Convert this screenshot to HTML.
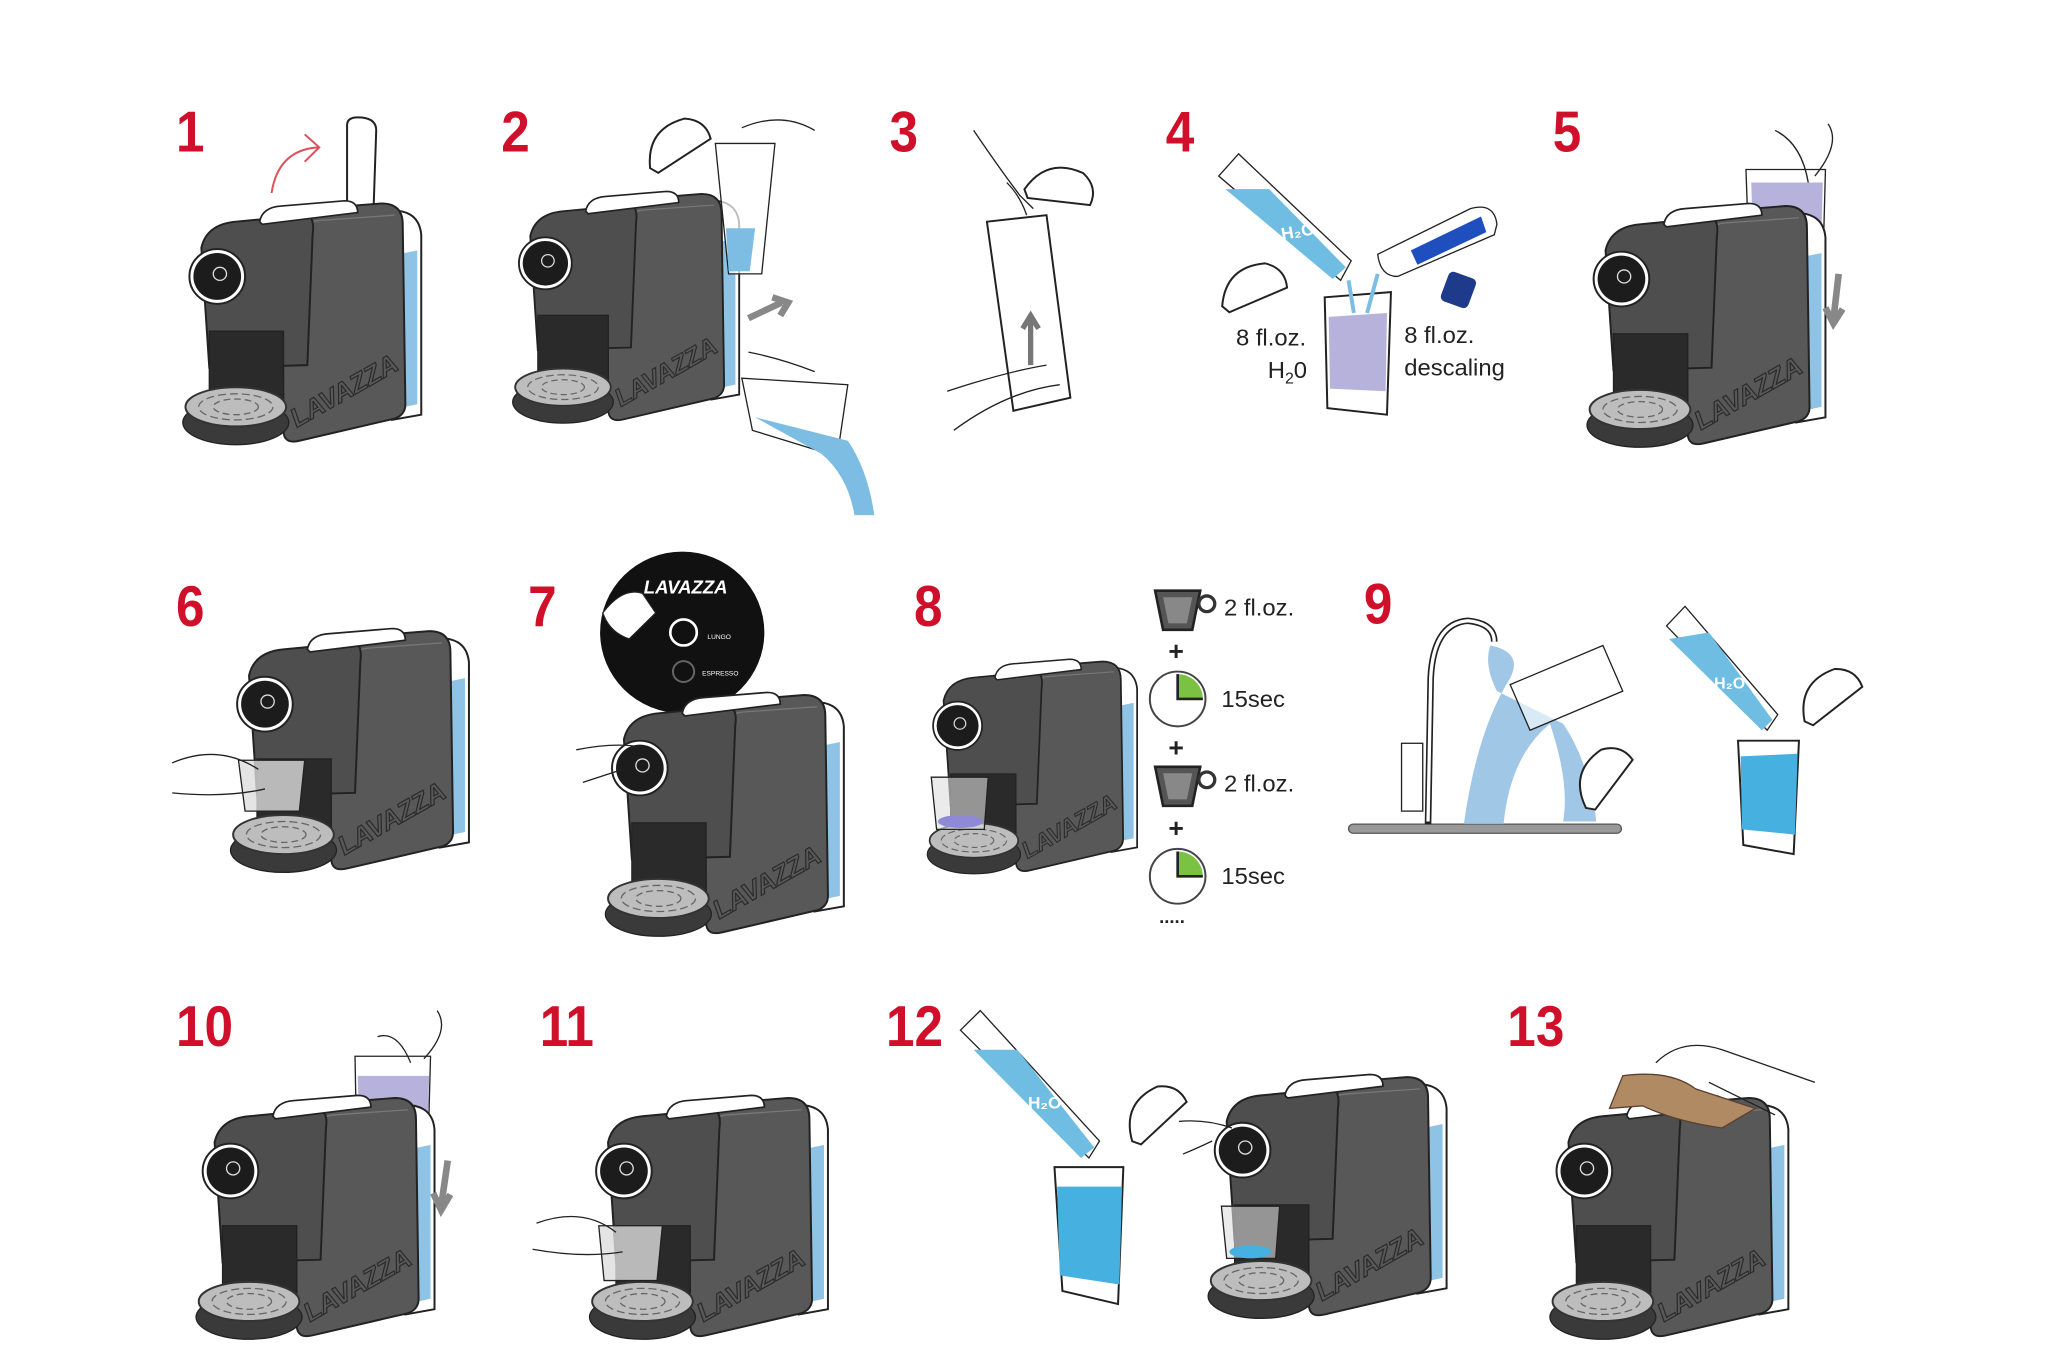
<!DOCTYPE html>
<html><head><meta charset="utf-8"><style>
html,body{margin:0;padding:0;background:#fff;width:2048px;height:1364px;overflow:hidden}
svg{display:block}
text{font-family:"Liberation Sans",sans-serif}
</style></head><body>
<svg width="2048" height="1364" viewBox="0 0 1546 1046" preserveAspectRatio="none" xmlns="http://www.w3.org/2000/svg">
<defs>
<g id="m">
 <path d="M150,12 Q178,8 180,30 L180,168 L158,172 Z" fill="#fff" stroke="#222" stroke-width="1.5"/>
 <path d="M163,45 L177,42 L177,160 L163,163 Z" fill="#8fc3e6"/>
 <path d="M75,24 Q80,12 100,10 L150,6 Q166,6 166,22 L168,160 Q168,168 160,171 L88,188 Q76,191 76,180 Z" fill="#585858" stroke="#222" stroke-width="1.5"/>
 <path d="M90,30 Q92,20 104,19 L160,15" fill="none" stroke="#777" stroke-width="1"/>
 <path d="M14,40 Q18,22 40,20 L92,15 Q100,15 98,30 L94,130 L20,132 Z" fill="#4e4e4e" stroke="#222" stroke-width="1.5"/>
 <path d="M58,20 Q60,9 74,8 L122,4 Q132,4 132,13 L60,22 Z" fill="#fff" stroke="#222" stroke-width="1.3"/>
 <circle cx="26" cy="62" r="21" fill="#fff" stroke="#222" stroke-width="1.5"/>
 <circle cx="26" cy="62" r="18" fill="#1c1c1c"/>
 <circle cx="28" cy="60" r="5" fill="none" stroke="#ddd" stroke-width="1"/>
 <rect x="20" y="104" width="56" height="56" fill="#2a2a2a" stroke="#222"/>
 <ellipse cx="40" cy="174" rx="40" ry="17" fill="#3a3a3a" stroke="#222"/>
 <ellipse cx="40" cy="162" rx="38" ry="15" fill="#bdbdbd" stroke="#333" stroke-width="1.5"/>
 <ellipse cx="40" cy="162" rx="28" ry="10" fill="none" stroke="#666" stroke-dasharray="6 3"/>
 <ellipse cx="40" cy="162" rx="17" ry="6" fill="none" stroke="#666" stroke-dasharray="5 3"/>
 <text x="86" y="178" transform="rotate(-30 86 178)" font-size="20" font-weight="bold" font-style="italic" fill="none" stroke="#2a2a2a" stroke-width="0.9">LAVAZZA</text>
</g>
<g id="clock">
 <circle cx="0" cy="0" r="21" fill="#fff" stroke="#444" stroke-width="1.5"/>
 <path d="M0,0 L0,-19 A19,19 0 0 1 19,0 Z" fill="#7cc242"/>
 <path d="M0,-19 L0,0 L19,0" stroke="#222" stroke-width="2" fill="none"/>
</g>
<g id="cup">
 <path d="M0,0 L34,0 L28,30 L6,30 Z" fill="#555" stroke="#222" stroke-width="2"/>
 <path d="M6,5 L28,5 L24,25 L10,25 Z" fill="#888"/>
 <circle cx="39" cy="10" r="6" fill="none" stroke="#333" stroke-width="2.5"/>
</g>
<g id="lid">
 <path d="M0,30 Q5,0 35,0 Q50,5 50,20 L5,35 Z" fill="#fff" stroke="#222" stroke-width="1.5"/>
</g>
</defs>

<g font-weight="bold" fill="#d0102a" font-size="44" transform="scale(0.88,1)">
<text x="151" y="116">1</text><text x="430" y="116">2</text><text x="763" y="116">3</text>
<text x="1000" y="116">4</text><text x="1332" y="116">5</text>
<text x="151" y="480">6</text><text x="453" y="480">7</text><text x="784" y="480">8</text><text x="1170" y="478">9</text>
<text x="151" y="802">10</text><text x="463" y="802">11</text><text x="760" y="802">12</text><text x="1293" y="802">13</text>
</g>

<!-- step 1 -->
<path d="M262,96 Q262,90 270,90 Q284,90 284,100 L282,160 L262,162 Z" fill="#fff" stroke="#222" stroke-width="1.5"/>
<use href="#m" x="138" y="150"/>
<path d="M205,148 Q210,115 240,113 M230,103 L241,113 L230,124" fill="none" stroke="#e0505a" stroke-width="1.5"/>

<!-- step 2 -->
<use href="#m" transform="translate(387,143) scale(0.95)"/>
<use href="#lid" transform="translate(483,100) rotate(-15)"/>
<path d="M540,110 L585,110 L575,210 L550,210 Z" fill="#fff" fill-opacity=".7" stroke="#222"/>
<path d="M548,175 L570,175 L566,208 L550,208 Z" fill="#7dbde3"/>
<path d="M560,98 Q590,85 615,100" fill="none" stroke="#222"/>
<path d="M565,244 L590,232 M583,228 L595,232 L589,242" stroke="#888" stroke-width="5" fill="none"/>
<path d="M560,290 L640,295 L632,350 L568,330 Z" fill="#fff" fill-opacity=".7" stroke="#222"/>
<path d="M570,320 L640,338 Q655,360 660,395 L645,395 Q640,365 620,348 Z" fill="#7dbde3"/>
<path d="M565,270 Q590,275 615,285" fill="none" stroke="#222"/>

<!-- step 3 -->
<path d="M745,170 L790,165 L808,305 L765,315 Z" fill="#fff" stroke="#222" stroke-width="1.5"/>
<path d="M778,280 L778,245 M772,252 L778,242 L784,252" stroke="#777" stroke-width="4" fill="none"/>
<path d="M735,100 Q755,130 770,150 L780,160 M760,140 Q770,150 775,165" fill="none" stroke="#222"/>
<path d="M715,300 Q760,285 790,280 M720,330 Q760,300 800,295" fill="none" stroke="#222"/>
<use href="#lid" transform="translate(786,118) rotate(25)"/>

<!-- step 4 -->
<path d="M920,135 L935,118 L1020,200 L1012,215 Z" fill="#fff" stroke="#222"/>
<path d="M925,145 L958,145 L1016,205 L1006,214 Z" fill="#6fbde2"/>
<text x="968" y="184" font-size="13" fill="#fff" font-weight="bold" transform="rotate(-10 968 184)">H₂O</text>
<path d="M1040,195 L1110,160 Q1128,155 1130,172 L1128,180 L1055,212 Q1042,212 1040,195 Z" fill="#fff" stroke="#222"/>
<path d="M1065,192 L1118,166 L1122,178 L1070,203 Z" fill="#1f4fbf"/>
<rect x="1090" y="210" width="22" height="24" rx="4" fill="#1e3a8a" transform="rotate(20 1100 222)"/>
<use href="#lid" transform="translate(920,205) rotate(-5)"/>
<path d="M1000,228 L1050,224 L1047,318 L1002,313 Z" fill="#fff" stroke="#222" stroke-width="1.5"/>
<path d="M1003,243 L1047,240 L1046,300 L1004,298 Z" fill="#b7b2dc"/>
<path d="M1018,215 L1022,240 M1040,210 L1032,240" stroke="#7dbde3" stroke-width="3"/>
<text x="933" y="265" font-size="18" fill="#222">8 fl.oz.</text>
<text x="957" y="290" font-size="18" fill="#222">H<tspan font-size="12" dy="4">2</tspan><tspan dy="-4">0</tspan></text>
<text x="1060" y="263" font-size="18" fill="#222">8 fl.oz.</text>
<text x="1060" y="288" font-size="18" fill="#222">descaling</text>

<!-- step 5 -->
<path d="M1318,130 L1378,130 L1375,245 L1322,245 Z" fill="#fff" stroke="#222"/>
<path d="M1322,140 L1376,140 L1374,215 L1324,215 Z" fill="#b7b2dc"/>
<use href="#m" x="1198" y="152"/>
<path d="M1340,100 Q1360,110 1365,140 M1380,95 Q1390,110 1370,135" fill="none" stroke="#222"/>
<path d="M1388,210 L1384,245 M1378,236 L1384,248 L1391,237" stroke="#888" stroke-width="5" fill="none"/>

<!-- step 6 -->
<use href="#m" x="174" y="478"/>
<path d="M180,583 L230,583 L226,622 L185,622 Z" fill="#ddd" fill-opacity=".8" stroke="#222"/>
<path d="M130,585 Q165,570 195,590 M130,608 Q170,612 200,605" fill="none" stroke="#222"/>

<!-- step 7 -->
<circle cx="515" cy="485" r="62" fill="#111"/>
<text x="486" y="455" font-size="14" font-weight="bold" font-style="italic" fill="#fff">LAVAZZA</text>
<circle cx="516" cy="485" r="10" fill="none" stroke="#fff" stroke-width="2"/>
<circle cx="516" cy="515" r="8" fill="none" stroke="#666" stroke-width="1.5"/>
<text x="534" y="490" font-size="5" fill="#fff">LUNGO</text>
<text x="530" y="518" font-size="5" fill="#fff">ESPRESSO</text>
<path d="M455,470 Q470,450 485,455 L495,470 L475,490 Q460,485 455,470 Z" fill="#fff" stroke="#222"/>
<use href="#m" x="457" y="527"/>
<path d="M435,575 Q460,570 478,572 M440,600 Q455,595 470,590" fill="none" stroke="#222"/>

<!-- step 8 -->
<use href="#m" transform="translate(700,502) scale(0.88)"/>
<path d="M703,596 L746,596 L743,636 L707,636 Z" fill="#ddd" fill-opacity=".6" stroke="#222"/>
<ellipse cx="725" cy="630" rx="17" ry="5" fill="#8f8ad6"/>
<use href="#cup" x="872" y="453"/>
<text x="924" y="472" font-size="18" fill="#222">2 fl.oz.</text>
<text x="882" y="506" font-size="20" font-weight="bold" fill="#222">+</text>
<use href="#clock" x="889" y="536"/>
<text x="922" y="542" font-size="18" fill="#222">15sec</text>
<text x="882" y="580" font-size="20" font-weight="bold" fill="#222">+</text>
<use href="#cup" x="872" y="588"/>
<text x="924" y="607" font-size="18" fill="#222">2 fl.oz.</text>
<text x="882" y="642" font-size="20" font-weight="bold" fill="#222">+</text>
<use href="#clock" x="889" y="672"/>
<text x="922" y="678" font-size="18" fill="#222">15sec</text>
<text x="875" y="708" font-size="14" font-weight="bold" fill="#222">.....</text>

<!-- step 9 -->
<rect x="1018" y="632" width="206" height="7" rx="3.5" fill="#999" stroke="#555"/>
<path d="M1078,632 L1080,520 Q1082,478 1108,476 Q1128,478 1128,492" fill="none" stroke="#222" stroke-width="5"/>
<path d="M1078,630 L1080,520 Q1082,478 1108,476 Q1128,478 1128,492" fill="none" stroke="#fff" stroke-width="2.5"/>
<rect x="1058" y="570" width="16" height="52" fill="#fff" stroke="#222"/>
<path d="M1125,495 Q1150,500 1140,520 Q1115,560 1105,632 L1135,632 Q1140,580 1170,555 Q1185,600 1180,630 L1205,630 Q1200,585 1180,555 L1130,530 Q1120,510 1125,495 Z" fill="#8fbde0" opacity=".85"/>
<path d="M1140,525 L1210,495 L1225,530 L1155,560 Z" fill="#fff" fill-opacity=".6" stroke="#222"/>
<use href="#lid" transform="translate(1180,595) rotate(-35)"/>
<use href="#lid" transform="translate(1352,525) rotate(-20)"/>
<path d="M1258,480 L1272,465 L1342,548 L1334,560 Z" fill="#fff" stroke="#222"/>
<path d="M1260,490 L1290,485 L1338,552 L1330,560 Z" fill="#6fbde2"/>
<text x="1294" y="528" font-size="12" fill="#fff" font-weight="bold">H₂O</text>
<path d="M1312,568 L1358,568 L1354,655 L1316,648 Z" fill="#fff" stroke="#222" stroke-width="1.5"/>
<path d="M1314,580 L1357,578 L1355,640 L1315,636 Z" fill="#46b0e0"/>

<!-- step 10 -->
<path d="M268,810 L325,810 L322,922 L270,922 Z" fill="#fff" stroke="#222"/>
<path d="M270,825 L324,825 L322,890 L272,890 Z" fill="#b7b2dc"/>
<use href="#m" x="148" y="836"/>
<path d="M285,795 Q300,790 310,815 M330,775 Q340,790 320,812" fill="none" stroke="#222"/>
<path d="M338,890 L333,925 M327,915 L333,928 L340,916" stroke="#888" stroke-width="5" fill="none"/>

<!-- step 11 -->
<use href="#m" x="445" y="836"/>
<path d="M452,940 L500,940 L496,982 L456,982 Z" fill="#ddd" fill-opacity=".8" stroke="#222"/>
<path d="M405,938 Q440,925 465,945 M402,958 Q440,965 470,960" fill="none" stroke="#222"/>

<!-- step 12 -->
<path d="M725,790 L740,775 L830,875 L822,888 Z" fill="#fff" stroke="#222"/>
<path d="M735,805 L768,805 L826,880 L816,888 Z" fill="#6fbde2"/>
<text x="776" y="850" font-size="13" fill="#fff" font-weight="bold">H₂O</text>
<use href="#lid" transform="translate(842,848) rotate(-25)"/>
<path d="M796,895 L848,895 L844,1000 L802,990 Z" fill="#fff" stroke="#222" stroke-width="1.5"/>
<path d="M798,910 L847,910 L845,985 L800,978 Z" fill="#46b0e0"/>
<use href="#m" x="912" y="820"/>
<path d="M922,925 L966,925 L963,965 L926,965 Z" fill="#ddd" fill-opacity=".6" stroke="#222"/>
<ellipse cx="944" cy="960" rx="16" ry="5" fill="#46b0e0"/>
<path d="M890,860 Q910,858 930,865 M893,885 Q905,880 915,875" fill="none" stroke="#222"/>

<!-- step 13 -->
<use href="#m" x="1170" y="836"/>
<path d="M1215,850 L1225,825 Q1260,820 1280,835 L1325,850 L1300,865 Q1265,860 1240,848 Z" fill="#b08a63" stroke="#5a4030"/>
<path d="M1250,815 Q1270,795 1300,805 L1370,830 M1290,830 L1340,855" fill="none" stroke="#222"/>
</svg>
</body></html>
